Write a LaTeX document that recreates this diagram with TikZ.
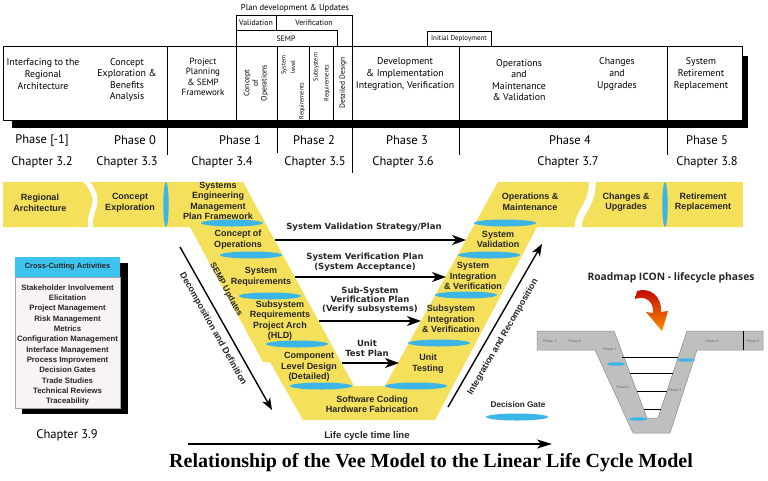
\documentclass[tikz,border=0pt]{standalone}
\usepackage{fontspec}
\setmainfont{Liberation Sans}
\newfontfamily\hdrfont{PT Sans}
\newfontfamily\dvfont{DejaVu Sans}
\newfontfamily\ttlfont{Liberation Serif}
\newfontfamily\osfont{Open Sans}
\usetikzlibrary{arrows.meta,shapes.geometric}
\definecolor{vyel}{HTML}{F5E05C}
\definecolor{gatec}{HTML}{3CB6E6}
\definecolor{ccblue}{HTML}{3CC4EF}
\definecolor{ccbody}{HTML}{F7F3F7}
\definecolor{icongray}{HTML}{BFBFBF}
\definecolor{vtext}{HTML}{262626}
\begin{document}
\begin{tikzpicture}[x=1pt,y=-1pt,
  hdr/.style={font=\hdrfont\fontsize{9.8}{11.6}\selectfont, align=center, inner sep=0pt},
  hdrs/.style={font=\hdrfont\fontsize{6.2}{8}\selectfont, inner sep=0pt, rotate=90},
  phase/.style={font=\hdrfont\fontsize{12.5}{14}\selectfont, inner sep=0pt},
  vlab/.style={font=\bfseries\fontsize{9}{10.5}\selectfont, align=center, inner sep=0pt, text=vtext},
  alab/.style={font=\dvfont\bfseries\fontsize{8.5}{9.8}\selectfont, align=center, inner sep=0pt, text=vtext},
  rlab/.style={font=\bfseries\fontsize{9}{10}\selectfont, inner sep=0pt, text=vtext},
  gate/.style={ellipse, fill=gatec, draw=none, minimum width=62pt, minimum height=7pt, inner sep=0pt},
  vgate/.style={ellipse, fill=gatec, draw=none, minimum width=5.5pt, minimum height=45pt, inner sep=0pt},
  igate/.style={ellipse, fill=gatec, draw=none, minimum width=18pt, minimum height=3.5pt, inner sep=0pt},
  varrow/.style={line width=1.7pt, -{Stealth[length=14pt,width=10pt,inset=4pt]}},
  darrow/.style={line width=1.4pt, -{Stealth[length=12pt,width=9pt,inset=3.5pt]}},
  icolab/.style={font=\fontsize{3.5}{4}\selectfont, text=black!60, inner sep=0pt}
]
\useasboundingbox (0,0) rectangle (768,480);
\fill[white] (0,0) rectangle (768,480);

% ---------- header table ----------
\fill[black] (12,56) rectangle (748,128);
\draw[fill=white, line width=1pt] (3,46) rectangle (742,120);
\draw[line width=0.8pt] (236,46) -- (236,15) -- (352,15) -- (352,46);
\draw[line width=0.8pt] (236,30) -- (337,30) -- (337,46);
\draw[line width=0.8pt] (276,15) -- (276,30);
\draw[line width=0.8pt] (427,46) -- (427,31) -- (491,31) -- (491,46);
\foreach \xx/\yy in {167/155, 277/153, 352/173, 459/155, 667/155}
  \draw[line width=1pt] (\xx,46) -- (\xx,\yy);
\foreach \xx in {236, 309, 333}
  \draw[line width=0.8pt] (\xx,46) -- (\xx,120);

\node[hdr, font=\hdrfont\fontsize{8.6}{10}\selectfont] (pdu) at (295,8) {Plan development \& Updates};
\node[hdr, font=\hdrfont\fontsize{7.8}{9}\selectfont] (val) at (256,23) {Validation};
\node[hdr, font=\hdrfont\fontsize{7.8}{9}\selectfont] (ver) at (314,23) {Verification};
\node[hdr, font=\hdrfont\fontsize{7.8}{9}\selectfont] (semp) at (286,38.5) {SEMP};
\node[hdr, font=\hdrfont\fontsize{7}{8}\selectfont] (idp) at (459,39) {Initial Deployment};

\node[hdr] (h1) at (43,74) {Interfacing to the\\Regional\\Architecture};
\node[hdr] (h2) at (127,80) {Concept\\Exploration \&\\Benefits\\Analysis};
\node[hdr, font=\hdrfont\fontsize{9}{10.4}\selectfont] (h3) at (203,77) {Project\\Planning\\\& SEMP\\Framework};
\node[hdr, font=\hdrfont\fontsize{7.8}{8.7}\selectfont, rotate=90] (h4) at (256,83) {Concept\\of\\Operations};
\node[hdrs] (h5a) at (284,65) {System};
\node[hdrs] (h5b) at (293,67) {level};
\node[hdrs] (h5c) at (302,101) {Requirements};
\node[hdrs] (h6a) at (316,67) {Subsystem};
\node[hdrs] (h6b) at (327,83) {Requirements};
\node[hdrs, font=\hdrfont\fontsize{7.5}{8}\selectfont] (h7) at (343,83) {Detailed Design};
\node[hdr] (h8) at (405,74) {Development\\\& Implementation\\Integration, Verification};
\node[hdr] (h9) at (519,80) {Operations\\and\\Maintenance\\\& Validation};
\node[hdr] (h10) at (617,74) {Changes\\and\\Upgrades};
\node[hdr] (h11) at (701,74) {System\\Retirement\\Replacement};

\node[phase] (p0) at (42,140) {Phase [-1]};
\node[phase] (p1) at (135,140) {Phase 0};
\node[phase] (p2) at (240,140) {Phase 1};
\node[phase] (p3) at (314,140) {Phase 2};
\node[phase] (p4) at (407,140) {Phase 3};
\node[phase] (p5) at (570,140) {Phase 4};
\node[phase] (p6) at (707,140) {Phase 5};
\node[phase] (c0) at (42,162) {Chapter 3.2};
\node[phase] (c1) at (127,162) {Chapter 3.3};
\node[phase] (c2) at (222,162) {Chapter 3.4};
\node[phase] (c3) at (315,162) {Chapter 3.5};
\node[phase] (c4) at (403,162) {Chapter 3.6};
\node[phase] (c5) at (568,162) {Chapter 3.7};
\node[phase] (c6) at (707,162) {Chapter 3.8};

% ---------- Vee ----------
\fill[vyel] (3,182) -- (243,182) -- (354,386) -- (385,386) -- (498,182) -- (743,182)
  -- (743,227) -- (537,227) -- (435,420) -- (303,420) -- (270,362) -- (263,362)
  -- (190,227) -- (3,227) -- cycle;
\draw[white, line width=5pt] (85,180) .. controls (93,188) and (97,198) .. (94,207)
  .. controls (92,214) and (89,220) .. (91,229);
\draw[white, line width=7pt] (592,180) .. controls (593,194) and (589,201) .. (584,210)
  .. controls (580,217) and (578,222) .. (578,229);

\node[vgate] (vg1) at (166,204.5) {};
\node[vgate] (vg2) at (665,204.5) {};
\node[gate] (gl1) at (232,223) {};
\node[gate] (gl2) at (251,255) {};
\node[gate] (gl3) at (270,296) {};
\node[gate] (gl4) at (297,344) {};
\node[gate] (gl5) at (321,386) {};
\node[gate] (gr1) at (505,223) {};
\node[gate] (gr2) at (489,255) {};
\node[gate] (gr3) at (466,295) {};
\node[gate] (gr4) at (439,343) {};
\node[gate] (gr5) at (416,386) {};

\node[vlab] (v1) at (40,203) {Regional\\Architecture};
\node[vlab] (v2) at (130,203) {Concept\\Exploration};
\node[vlab] (v3) at (218,201) {Systems\\Engineering\\Management\\Plan Framework};
\node[vlab] (v4) at (238,239.5) {Concept of\\Operations};
\node[vlab] (v5) at (261,277) {System\\Requirements};
\node[vlab] (v6) at (280,320.5) {Subsystem\\Requirements\\Project Arch\\(HLD)};
\node[vlab] (v7) at (309,367) {Component\\Level Design\\(Detailed)};
\node[vlab] (v8) at (372,404.5) {Software Coding\\Hardware Fabrication};
\node[vlab] (v9) at (428,363.5) {Unit\\Testing};
\node[vlab] (v10) at (451,319) {Subsystem\\Integration\\\& Verification};
\node[vlab] (v11) at (473,276) {System\\Integration\\\& Verification};
\node[vlab] (v12) at (498,239.5) {System\\Validation};
\node[vlab] (v13) at (530,202) {Operations \&\\Maintenance};
\node[vlab] (v14) at (626,202) {Changes \&\\Upgrades};
\node[vlab] (v15) at (703,202) {Retirement\\Replacement};

% arrows across the Vee
\coordinate (a1s) at (275,240); \coordinate (a1e) at (466,240);
\coordinate (a2s) at (295,277); \coordinate (a2e) at (446,277);
\coordinate (a3s) at (319,321); \coordinate (a3e) at (421,321);
\coordinate (a4s) at (342,363); \coordinate (a4e) at (399,363);
\draw[varrow] (a1s) -- (a1e);
\draw[varrow] (a2s) -- (a2e);
\draw[varrow] (a3s) -- (a3e);
\draw[varrow] (a4s) -- (a4e);
\node[alab] (t1) at (364,227) {System Validation Strategy/Plan};
\node[alab] (t2) at (365,262) {System Verification Plan\\(System Acceptance)};
\node[alab, font=\dvfont\bfseries\fontsize{8.5}{9.3}\selectfont] (t3) at (370,300) {Sub-System\\Verification Plan\\(Verify subsystems)};
\node[alab] (t4) at (367,348) {Unit\\Test Plan};

% side arrows
\coordinate (dd1) at (180,247); \coordinate (dd2) at (272,410);
\draw[darrow] (dd1) -- (dd2);
\node[rlab, rotate=-60.6] (ddl) at (213,329) {Decomposition and Definition};
\node[rlab, rotate=-61.5, font=\bfseries\fontsize{8.4}{9}\selectfont] (semu) at (226,290) {SEMP Updates};
\coordinate (ir1) at (448,407); \coordinate (ir2) at (542,244);
\draw[darrow] (ir1) -- (ir2);
\node[rlab, rotate=60] (irl) at (503,337) {Integration and Recomposition};

\node[gate] (glg) at (517,417) {};
\node[vlab, font=\bfseries\fontsize{8.2}{9}\selectfont] (dgl) at (518,405) {Decision Gate};

% life cycle arrow
\coordinate (lc1) at (188,444); \coordinate (lc2) at (552,444);
\draw[line width=1.8pt, -{Stealth[length=15pt,width=9pt,inset=4pt]}] (lc1) -- (lc2);
\node[rlab, font=\bfseries\fontsize{9.6}{10}\selectfont] (lct) at (367,436) {Life cycle time line};

\node[inner sep=0pt, font=\ttlfont\bfseries\fontsize{20}{22}\selectfont] (title) at (431,463) {Relationship of the Vee Model to the Linear Life Cycle Model};

% ---------- cross-cutting box ----------
\fill[black] (22,263) rectangle (128,414);
\draw[fill=ccbody, draw=black!35, line width=0.5pt] (15,277) rectangle (120,408);
\fill[ccblue] (15,257) rectangle (120,277);
\node[vlab, font=\bfseries\fontsize{7.5}{8}\selectfont] (cch) at (67.5,267) {Cross-Cutting Activities};
\node[vlab, font=\bfseries\fontsize{7.8}{10.35}\selectfont] (ccl) at (67.5,345) {Stakeholder Involvement\\Elicitation\\Project Management\\Risk Management\\Metrics\\Configuration Management\\Interface Management\\Process Improvement\\Decision Gates\\Trade Studies\\Technical Reviews\\Traceability};
\node[phase] (c9) at (67,435) {Chapter 3.9};

% ---------- roadmap icon ----------
\node[inner sep=0pt, font=\osfont\bfseries\fontsize{10.3}{12}\selectfont, text=vtext] (rmt) at (671,278) {Roadmap ICON - lifecycle phases};
\shade[top color=red!75!black, bottom color=orange!90!yellow]
  (635,299) .. controls (646,295) and (654,302) .. (653,313) -- (646,312) -- (662,331)
  -- (668,311) -- (661,312) .. controls (662,296) and (650,287) .. (637,291) -- cycle;
\draw[fill=icongray, draw=black!45, line width=0.5pt]
  (537,331) -- (614,331) -- (647,418) -- (658,418) -- (687,331) -- (763,331) -- (763,350)
  -- (697,350) -- (670,433) -- (633,433) -- (595,350) -- (537,350) -- cycle;
\draw[line width=0.8pt] (743,331) -- (743,350);
\draw[line width=0.6pt] (622,357) -- (678,357);
\draw[line width=0.6pt] (630,373) -- (673,373);
\draw[line width=0.6pt] (637,391) -- (667,391);
\draw[line width=0.6pt] (644,409) -- (661,409);
\node[igate] (ig1) at (616,364) {};
\node[igate] (ig2) at (686,360) {};
\node[igate] (ig3) at (638,419) {};
\node[icolab] (il0) at (550,341) {Phase -1};
\node[icolab] (il1) at (575,341) {Phase 0};
\node[icolab] (il2) at (610,349) {Phase 1};
\node[icolab] (il3) at (623,387) {Phase 2};
\node[icolab] (il4) at (675,390) {Phase 3};
\node[icolab] (il5) at (712,341) {Phase 4};
\node[icolab] (il6) at (753,341) {Phase 5};
\end{tikzpicture}
\end{document}
